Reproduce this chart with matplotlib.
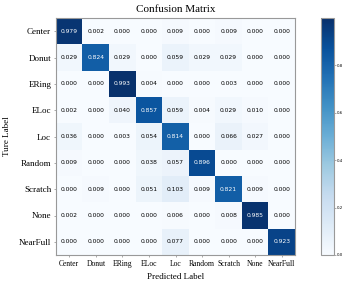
import numpy as np
import matplotlib
matplotlib.use("Agg")
import matplotlib.pyplot as plt

labels = ["Center", "Donut", "ERing", "ELoc", "Loc", "Random", "Scratch", "None", "NearFull"]
cm = np.array([
    [0.979, 0.002, 0.000, 0.000, 0.009, 0.000, 0.009, 0.000, 0.000],
    [0.029, 0.824, 0.029, 0.000, 0.059, 0.029, 0.029, 0.000, 0.000],
    [0.000, 0.000, 0.993, 0.004, 0.000, 0.000, 0.003, 0.000, 0.000],
    [0.002, 0.000, 0.040, 0.857, 0.059, 0.004, 0.029, 0.010, 0.000],
    [0.036, 0.000, 0.003, 0.054, 0.814, 0.000, 0.066, 0.027, 0.000],
    [0.009, 0.000, 0.000, 0.038, 0.057, 0.896, 0.000, 0.000, 0.000],
    [0.000, 0.009, 0.000, 0.051, 0.103, 0.009, 0.821, 0.009, 0.000],
    [0.002, 0.000, 0.000, 0.000, 0.006, 0.000, 0.008, 0.985, 0.000],
    [0.000, 0.000, 0.000, 0.000, 0.077, 0.000, 0.000, 0.000, 0.923],
])
cbar_ticks = [0.0, 0.2, 0.4, 0.6, 0.8]

serif = ["Liberation Serif", "DejaVu Serif"]
W, H = 342, 282
fig = plt.figure(figsize=(W / 100, H / 100), dpi=100)
ax = fig.add_axes([56 / W, 1 - 255 / H, (295 - 56) / W, (255 - 18) / H])
cax = fig.add_axes([321 / W, 1 - 255 / H, (334 - 321) / W, (255 - 18) / H])

im = ax.imshow(cm, cmap="Blues", vmin=0, vmax=1.0, aspect="auto")
n = len(labels)
for i in range(n):
    for j in range(n):
        v = cm[i, j]
        ax.text(j, i, f"{v:.3f}", ha="center", va="center", fontsize=4.3,
                color="white" if v > 0.5 else "black", family="DejaVu Sans")

ax.set_xticks(range(n))
ax.set_yticks(range(n))
ax.set_xticklabels(labels, fontsize=5.5, family=serif)
ax.set_yticklabels(labels, fontsize=6.5, family=serif)
ax.tick_params(length=1.5, width=0.5, pad=2, color="#888888")
for s in ax.spines.values():
    s.set_color("#999999")
    s.set_linewidth(0.8)
ax.set_title("Confusion Matrix", fontsize=8, family=serif, pad=4)
ax.set_xlabel("Predicted Label", fontsize=6.5, family=serif, labelpad=4)
ax.set_ylabel("Ture Label", fontsize=6.5, family=serif, labelpad=6)

cb = fig.colorbar(im, cax=cax, ticks=cbar_ticks)
cb.ax.tick_params(labelsize=2.8, length=1.2, width=0.5, pad=0.5, color="#888888")
cb.outline.set_edgecolor("#999999")
cb.outline.set_linewidth(0.8)

fig.savefig("out.png", dpi=100)
